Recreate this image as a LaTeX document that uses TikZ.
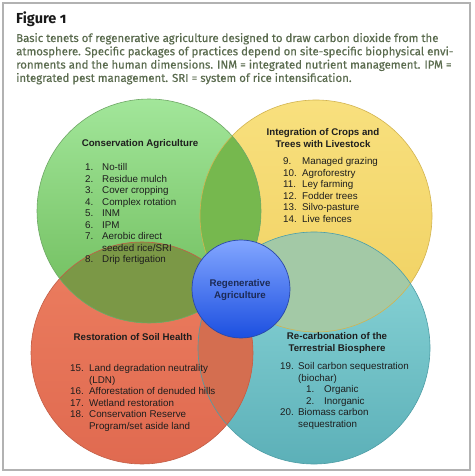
\documentclass[tikz,border=0pt]{standalone}
\usepackage{fontspec}
\setmainfont{Liberation Sans}
\newfontfamily\capfont[BoldFont={Fira Sans}, BoldFeatures={FakeBold=0.35}]{Fira Sans}
\newfontfamily\titlefont[Numbers=OldStyle]{Fira Sans}
\usepackage{array}
\definecolor{txt}{HTML}{1E1E1E}
\definecolor{captxt}{HTML}{5A6B4E}
\definecolor{navy}{HTML}{1C2A55}
\definecolor{gtop}{HTML}{A2E69A}
\definecolor{gbot}{HTML}{6CBA58}
\definecolor{gline}{HTML}{6FA866}
\definecolor{ytop}{HTML}{F8E07E}
\definecolor{ybot}{HTML}{F0D060}
\definecolor{yline}{HTML}{D2B450}
\definecolor{rtop}{HTML}{EC7E60}
\definecolor{rbot}{HTML}{E06A50}
\definecolor{rline}{HTML}{C25E46}
\definecolor{ttop}{HTML}{8ED8DA}
\definecolor{tbot}{HTML}{5CB0B8}
\definecolor{tline}{HTML}{4E9EA6}
\definecolor{btop}{HTML}{82A6FF}
\definecolor{bbot}{HTML}{1C4FE0}
\definecolor{bline}{HTML}{2A48A8}
\definecolor{gy}{HTML}{76B84E}
\definecolor{gr}{HTML}{7B9846}
\definecolor{yt}{HTML}{A3C9A6}
\definecolor{rt}{HTML}{D46E50}
\begin{document}
\begin{tikzpicture}[x=1pt,y=-1pt,
  lst/.style={font=\fontsize{9.8}{11.5}\selectfont, text=txt, inner sep=0, anchor=base west},
  head/.style={font=\fontsize{9.7}{11.5}\selectfont\bfseries, text=txt, inner sep=0, anchor=base},
  ring/.style={line width=0.6pt}]
\useasboundingbox (0,0) rectangle (474,476);
\fill[white] (0,0) rectangle (474,476);
\draw[black!30, line width=1.2pt] (3,3) rectangle (470,470);
% centres
\coordinate (G) at (149,211);
\coordinate (Y) at (316,216);
\coordinate (R) at (142,353);
\coordinate (T) at (314,348);
\coordinate (B) at (241,289);
% circles
\shade[top color=ytop, bottom color=ybot] (Y) circle[radius=116pt];
\shade[top color=ttop, bottom color=tbot] (T) circle[radius=116pt];
\shade[top color=rtop, bottom color=rbot] (R) circle[radius=111pt];
\shade[top color=gtop, bottom color=gbot] (G) circle[radius=112pt];
% overlaps
\begin{scope}\clip (G) circle[radius=112pt]; \fill[gy] (Y) circle[radius=116pt]; \end{scope}
\begin{scope}\clip (G) circle[radius=112pt]; \fill[gr] (R) circle[radius=111pt]; \end{scope}
\begin{scope}\clip (T) circle[radius=116pt]; \fill[yt] (Y) circle[radius=116pt]; \end{scope}
\begin{scope}\clip (T) circle[radius=116pt]; \fill[rt] (R) circle[radius=111pt]; \end{scope}
% outlines
\draw[ring, yline] (Y) circle[radius=116pt];
\draw[ring, tline] (T) circle[radius=116pt];
\draw[ring, rline] (R) circle[radius=111pt];
\draw[ring, gline] (G) circle[radius=112pt];
\shade[top color=btop, bottom color=bbot, draw=bline, line width=0.7pt] (B) circle[radius=49pt];
% title and caption
\node[inner sep=0, anchor=base west, text=black!90, font=\titlefont\bfseries\fontsize{14.5}{16}\selectfont] (title) at (16,24) {Figure 1};
\node[inner sep=0, anchor=base west, text=captxt, font=\capfont\bfseries\fontsize{11.4}{13.3}\selectfont] (caption) at (16,42)
 {\begin{tabular}[t]{@{}l@{}}
 Basic tenets of regenerative agriculture designed to draw carbon dioxide from the\\
 atmosphere. Specific packages of practices depend on site-specific biophysical envi-\\
 ronments and the human dimensions. INM = integrated nutrient management. IPM =\\
 integrated pest management. SRI = system of rice intensification.
 \end{tabular}};
% headings
\node[head] (gh) at (140,146.5) {Conservation Agriculture};
\node[head] (yh) at (323,135.5) {\begin{tabular}[t]{@{}c@{}}Integration of Crops and\\ Trees with Livestock\end{tabular}};
\node[head] (rh) at (133,340.5) {Restoration of Soil Health};
\node[head] (th) at (337,339.5) {\begin{tabular}[t]{@{}c@{}}Re-carbonation of the\\ Terrestrial Biosphere\end{tabular}};
\node[head, text=navy] (bh) at (240,286.5) {\begin{tabular}[t]{@{}c@{}}Regenerative\\ Agriculture\end{tabular}};
% lists
\node[lst] (gl) at (85,170.5) {\begin{tabular}[t]{@{}p{17pt}@{}l@{}}
 1. & No-till\\ 2. & Residue mulch\\ 3. & Cover cropping\\ 4. & Complex rotation\\
 5. & INM\\ 6. & IPM\\ 7. & Aerobic direct\\ & seeded rice/SRI\\ 8. & Drip fertigation
 \end{tabular}};
\node[lst] (yl) at (283,164.5) {\begin{tabular}[t]{@{}p{19pt}@{}l@{}}
 9. & Managed grazing\\ 10. & Agroforestry\\ 11. & Ley farming\\ 12. & Fodder trees\\
 13. & Silvo-pasture\\ 14. & Live fences
 \end{tabular}};
\node[lst] (rl) at (70,371.5) {\begin{tabular}[t]{@{}p{19pt}@{}l@{}}
 15. & Land degradation neutrality\\ & (LDN)\\ 16. & Afforestation of denuded hills\\
 17. & Wetland restoration\\ 18. & Conservation Reserve\\ & Program/set aside land
 \end{tabular}};
\node[lst] (tl) at (280,369.5) {\begin{tabular}[t]{@{}p{18pt}@{}l@{}}
 19. & Soil carbon sequestration\\ & (biochar)\\
 & \hspace{8pt}\makebox[18pt][l]{1.}Organic\\
 & \hspace{8pt}\makebox[18pt][l]{2.}Inorganic\\
 20. & Biomass carbon\\ & sequestration
 \end{tabular}};
\end{tikzpicture}
\end{document}
